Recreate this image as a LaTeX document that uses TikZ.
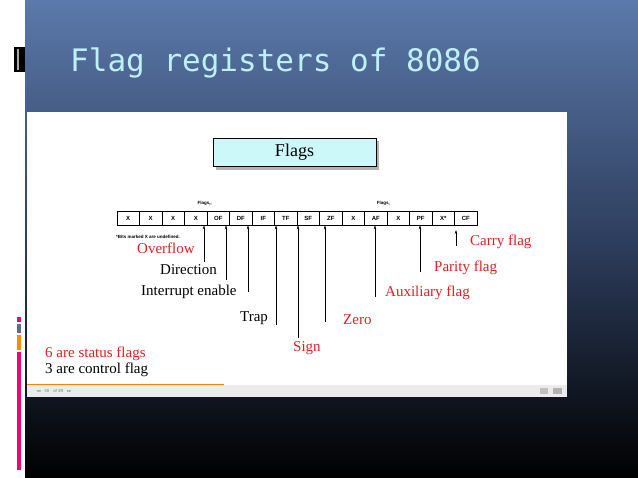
\documentclass[tikz,border=0pt]{standalone}
\usetikzlibrary{arrows.meta}
\usepackage{fontspec}
\setmainfont{Liberation Serif}
\newfontfamily\monof{DejaVu Sans Mono}
\newfontfamily\sansf{Liberation Sans}
\newfontfamily\dejav{DejaVu Sans}
\definecolor{ttl}{HTML}{BFEFF8}
\definecolor{lblred}{HTML}{E02020}
\definecolor{topblue}{HTML}{5B79AA}
\definecolor{midblue}{HTML}{2E3E5E}
\definecolor{flagbox}{HTML}{CCF8FA}
\begin{document}
\begin{tikzpicture}[x=1pt,y=-1pt,
  cell/.style={draw,line width=0.8pt,minimum width=22.5pt,minimum height=14pt,inner sep=0pt,font=\sansf\fontsize{6}{7}\selectfont\bfseries},
  lbl/.style={font=\fontsize{15}{17}\selectfont,inner sep=0pt,anchor=west},
  redtxt/.style={text=lblred},
  flagarrow/.style={-{Stealth[length=4pt,width=2.5pt]},line width=0.5pt}]
\useasboundingbox (0,0) rectangle (638,478);
\fill[white] (0,0) rectangle (638,478);
\shade[top color=topblue,bottom color=black,middle color=midblue] (25,0) rectangle (638,478);
% left decorations
\fill[black] (14,47) rectangle (25,72);
\fill[gray!70] (17,49) rectangle (19,70);
\fill[magenta!80!red] (17,317) rectangle (21,322);
\fill[gray!80!blue] (17,324) rectangle (21,333);
\fill[orange!90!yellow] (17,335) rectangle (21,350);
\fill[magenta!80!red] (17,352) rectangle (21,470);
% title
\node[anchor=west,text=ttl,font=\monof\fontsize{31}{34}\selectfont,inner sep=0pt] (title) at (70,63) {Flag registers of 8086};
% panel
\fill[white] (27,112) rectangle (567,397);
\fill[gray!15] (27,385) rectangle (567,397);
\draw[orange,line width=0.8pt] (27,384) -- (224,384);
\node[font=\dejav\fontsize{4}{5}\selectfont,text=gray,anchor=west] (nav) at (33,391) {◂◂ \ \ 30 \ \ of 89 \ \ ▸▸};
\fill[gray!50] (540,388) rectangle (548,394);
\fill[gray!60] (553,388) rectangle (562,394);
% Flags box
\fill[gray!60] (216,141) rectangle (379,170);
\node[draw,fill=flagbox,minimum width=163pt,minimum height=28pt,inner sep=0pt,font=\fontsize{18}{20}\selectfont] (flags) at (294.5,152) {Flags};
% register
\foreach \t [count=\i] in {X,X,X,X,OF,DF,IF,TF,SF,ZF,X,AF,X,PF,X*,CF}{
  \node[cell] (c\i) at (117+22.5*\i-11.25,218) {\t};
}
\node[font=\sansf\fontsize{4.5}{5}\selectfont\bfseries,inner sep=0pt] (fh) at (205,203) {Flags$_\mathrm{H}$};
\node[font=\sansf\fontsize{4.5}{5}\selectfont\bfseries,inner sep=0pt] (fl) at (384,203) {Flags$_\mathrm{L}$};
\node[font=\sansf\fontsize{4.5}{5}\selectfont\bfseries,inner sep=0pt,anchor=west] (note) at (116,237) {*Bits marked X are undefined.};
% labels
\node[lbl,redtxt] (ov) at (137,248) {Overflow};
\node[lbl] (di) at (160,270) {Direction};
\node[lbl] (ie) at (141,292) {Interrupt enable};
\node[lbl] (tr) at (240,318) {Trap};
\node[lbl,redtxt] (si) at (293,348) {Sign};
\node[lbl,redtxt] (ze) at (343,320) {Zero};
\node[lbl,redtxt] (au) at (385,293) {Auxiliary flag};
\node[lbl,redtxt] (pa) at (434,268) {Parity flag};
\node[lbl,redtxt] (ca) at (470,242) {Carry flag};
\node[lbl,redtxt] (st) at (45,354) {6 are status flags};
\node[lbl] (co) at (45,370) {3 are control flag};
% arrows
\foreach \x/\yb/\c in {204/262/5,226/280/6,248/292/7,276/325/8,298/338/9,325/322/10,375/297/12,420/272/14}{
  \coordinate (s\c) at (\x,\yb);
  \draw[flagarrow] (s\c) -- (s\c |- c\c.south);
}
\coordinate (s16) at (456,246);
\draw[flagarrow] (s16) -- (456,230);
\end{tikzpicture}
\end{document}
